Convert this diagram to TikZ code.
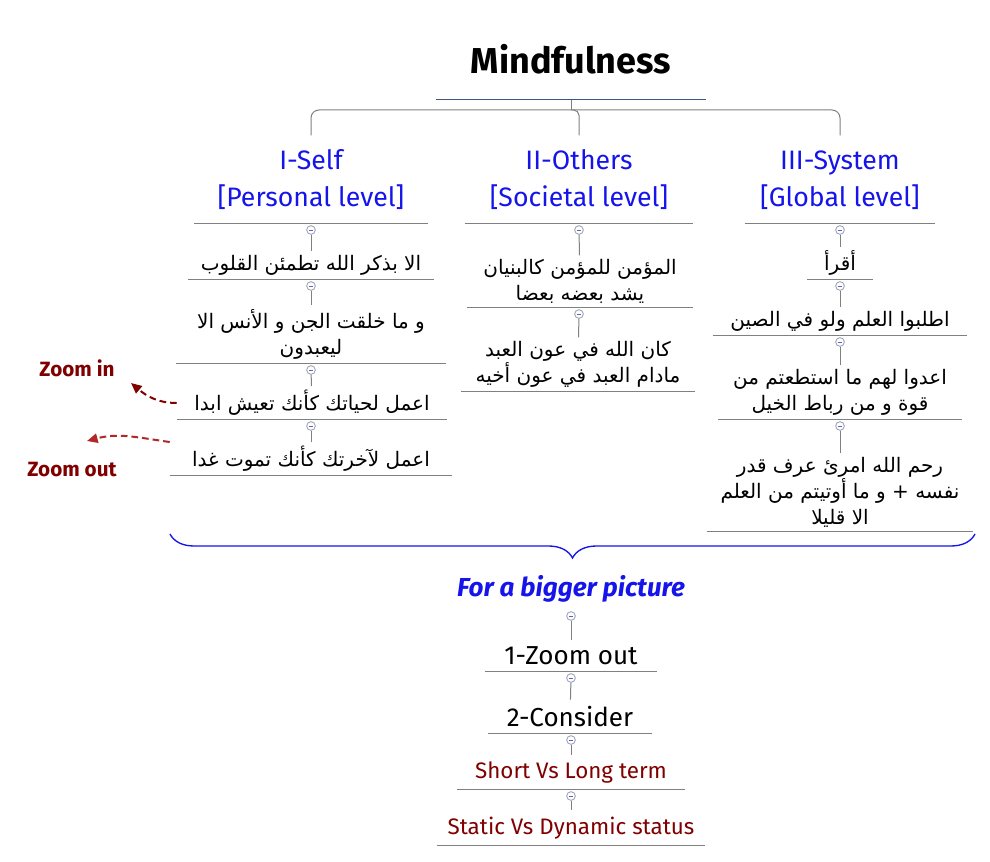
\documentclass[tikz,border=0pt]{standalone}
\usepackage{fontspec}
\setmainfont{Fira Sans}
\newfontfamily\arabicfont[Script=Arabic]{DejaVu Sans}
\TeXXeTstate=1
\usetikzlibrary{arrows.meta,decorations.pathreplacing}

\definecolor{headblue}{RGB}{20,20,235}
\definecolor{darkred}{RGB}{128,0,0}
\definecolor{zoomred}{RGB}{178,40,40}
\definecolor{rulegray}{RGB}{128,128,128}
\definecolor{titleline}{RGB}{60,85,130}
\definecolor{foldgray}{RGB}{150,158,172}

\newcommand{\pxu}{0.75pt}
\newcommand{\ar}[1]{{\arabicfont\beginR #1\endR}}

\tikzset{
  title/.style={anchor=south, inner xsep=0pt, inner ysep=19pt, font=\bfseries\fontsize{27}{32}\selectfont},
  heading/.style={anchor=south, align=center, text=headblue, inner sep=0pt, minimum height=88*\pxu, font=\fontsize{20}{27.75}\selectfont},
  saying/.style={anchor=south, align=center, inner xsep=0pt, inner ysep=3pt, font=\arabicfont\fontsize{15}{19.5}\selectfont},
  listitem/.style={anchor=south, inner xsep=0pt, inner ysep=5pt, font=\fontsize{19.5}{24}\selectfont},
  subitem/.style={listitem, text=darkred, font=\fontsize{16.8}{20}\selectfont},
  zoomlabel/.style={text=darkred, font=\bfseries\fontsize{15.5}{18}\selectfont},
  link/.style={rulegray, line width=0.75pt},
  underline/.style={rulegray, line width=0.75pt},
  fold/.style={circle, draw=foldgray, fill=white, line width=0.6pt, inner sep=0pt, minimum size=6.5pt,
    path picture={\draw[foldgray!60!blue, line width=0.6pt]
      ([xshift=-1.8pt]path picture bounding box.center) -- ([xshift=1.8pt]path picture bounding box.center);}},
  zoomarrow/.style={dash pattern=on 5pt off 3pt, line width=1.5pt, -{Triangle[length=8pt,width=7pt]}},
}

\begin{document}
\begin{tikzpicture}[x=0.75pt, y=-0.75pt]
    \fill[white] (0,0) rectangle (990,862);
    \useasboundingbox (0,0) rectangle (990,862);

    % Title
    \node[title, minimum width=269*\pxu] (title) at (571,100) {Mindfulness};
    \draw[titleline, line width=0.75pt] (title.south west) -- (title.south east);

    % I-Self
    \node[heading, minimum width=233*\pxu] (h1) at (311,224) {I-Self\\ {[Personal level]}};
    \draw[underline] (h1.south west) -- (h1.south east);
    \node[fold] (m1a) at (311,230) {};
    \node[saying, minimum width=245*\pxu] (s1a) at (311,280) {\ar{الا بذكر الله تطمئن القلوب}};
    \draw[underline] (s1a.south west) -- (s1a.south east);
    \draw[link] (m1a) -- (s1a);
    \node[fold] (m1b) at (311,286) {};
    \node[saying, minimum width=270*\pxu] (s1b) at (311,364) {\ar{و ما خلقت الجن و الأنس الا}\\\ar{ليعبدون}};
    \draw[underline] (s1b.south west) -- (s1b.south east);
    \draw[link] (m1b) -- (s1b);
    \node[fold] (m1c) at (311,370) {};
    \node[saying, minimum width=270*\pxu] (s1c) at (312,420) {\ar{اعمل لحياتك كأنك تعيش ابدا}};
    \draw[underline] (s1c.south west) -- (s1c.south east);
    \draw[link] (m1c) -- (s1c);
    \node[fold] (m1d) at (311,426) {};
    \node[saying, minimum width=282*\pxu] (s1d) at (311,476) {\ar{اعمل لآخرتك كأنك تموت غدا}};
    \draw[underline] (s1d.south west) -- (s1d.south east);
    \draw[link] (m1d) -- (s1d);

    % II-Others
    \node[heading, minimum width=228*\pxu] (h2) at (579,224) {II-Others\\ {[Societal level]}};
    \draw[underline] (h2.south west) -- (h2.south east);
    \node[fold] (m2a) at (579,230) {};
    \node[saying, minimum width=225*\pxu] (s2a) at (580,308) {\ar{المؤمن للمؤمن كالبنيان}\\\ar{يشد بعضه بعضا}};
    \draw[underline] (s2a.south west) -- (s2a.south east);
    \draw[link] (m2a) -- (s2a);
    \node[fold] (m2b) at (579,314) {};
    \node[saying, minimum width=233*\pxu] (s2b) at (578,392) {\ar{كان الله في عون العبد}\\\ar{مادام العبد في عون أخيه}};
    \draw[underline] (s2b.south west) -- (s2b.south east);
    \draw[link] (m2b) -- (s2b);

    % III-System
    \node[heading, minimum width=190*\pxu] (h3) at (840,224) {III-System\\ {[Global level]}};
    \draw[underline] (h3.south west) -- (h3.south east);
    \node[fold] (m3a) at (840,230) {};
    \node[saying, minimum width=65*\pxu] (s3a) at (840,280) {\ar{أقرأ}};
    \draw[underline] (s3a.south west) -- (s3a.south east);
    \draw[link] (m3a) -- (s3a);
    \node[fold] (m3b) at (840,286) {};
    \node[saying, minimum width=254*\pxu] (s3b) at (840,336) {\ar{اطلبوا العلم ولو في الصين}};
    \draw[underline] (s3b.south west) -- (s3b.south east);
    \draw[link] (m3b) -- (s3b);
    \node[fold] (m3c) at (840,342) {};
    \node[saying, minimum width=243*\pxu] (s3c) at (840,420) {\ar{اعدوا لهم ما استطعتم من}\\\ar{قوة  و من رباط الخيل}};
    \draw[underline] (s3c.south west) -- (s3c.south east);
    \draw[link] (m3c) -- (s3c);
    \node[fold] (m3d) at (840,426) {};
    \node[saying, minimum width=266*\pxu] (s3d) at (840,532) {\ar{رحم الله امرئ عرف قدر}\\\ar{نفسه + و ما أوتيتم من العلم}\\\ar{الا قليلا}};
    \draw[underline] (s3d.south west) -- (s3d.south east);
    \draw[link] (m3d) -- (s3d);

    % tree connectors
    \coordinate (bus) at (571,110);
    \draw[link] (title.south) -- (bus);
    \draw[link, rounded corners=6pt] (h1.north) |- (bus) -| (h3.north);
    \draw[link, rounded corners=4pt] (bus) -| (h2.north);

    % Brace
    \coordinate (braceL) at (170,534);
    \coordinate (braceR) at (975,534);
    \draw[headblue, line width=1pt, decorate, decoration={brace, mirror, amplitude=18pt}] (braceL) -- (braceR);

    % Bigger picture
    \node[text=headblue, font=\bfseries\itshape\fontsize{19.5}{24}\selectfont] (big) at (571,589) {For a bigger picture};
    \node[fold] (m4a) at (571,616) {};
    \node[listitem, minimum width=172*\pxu] (z1) at (571,672) {1-Zoom out};
    \draw[underline] (z1.south west) -- (z1.south east);
    \draw[link] (m4a) -- (z1);
    \node[fold] (m4b) at (571,678) {};
    \node[listitem, minimum width=164*\pxu] (z2) at (570,734) {2-Consider};
    \draw[underline] (z2.south west) -- (z2.south east);
    \draw[link] (m4b) -- (z2);
    \node[fold] (m4c) at (571,740) {};
    \node[subitem, minimum width=227*\pxu] (t1) at (571,790) {Short Vs Long term};
    \draw[underline] (t1.south west) -- (t1.south east);
    \draw[link] (m4c) -- (t1);
    \node[fold] (m4d) at (571,796) {};
    \node[subitem, minimum width=268*\pxu] (t2) at (571,846) {Static Vs Dynamic status};
    \draw[underline] (t2.south west) -- (t2.south east);
    \draw[link] (m4d) -- (t2);

    % Zoom hints
    \node[zoomlabel] (zin) at (77,368) {Zoom in};
    \node[zoomlabel] (zout) at (72,470) {Zoom out};
    \coordinate (zintip) at (131,383);
    \coordinate (zouttip) at (87,441);
    \draw[zoomarrow, darkred] (s1c.west) to[out=180, in=-40] (zintip);
    \draw[zoomarrow, zoomred] (s1d.north west) to[out=172, in=15] (zouttip);
\end{tikzpicture}
\end{document}
